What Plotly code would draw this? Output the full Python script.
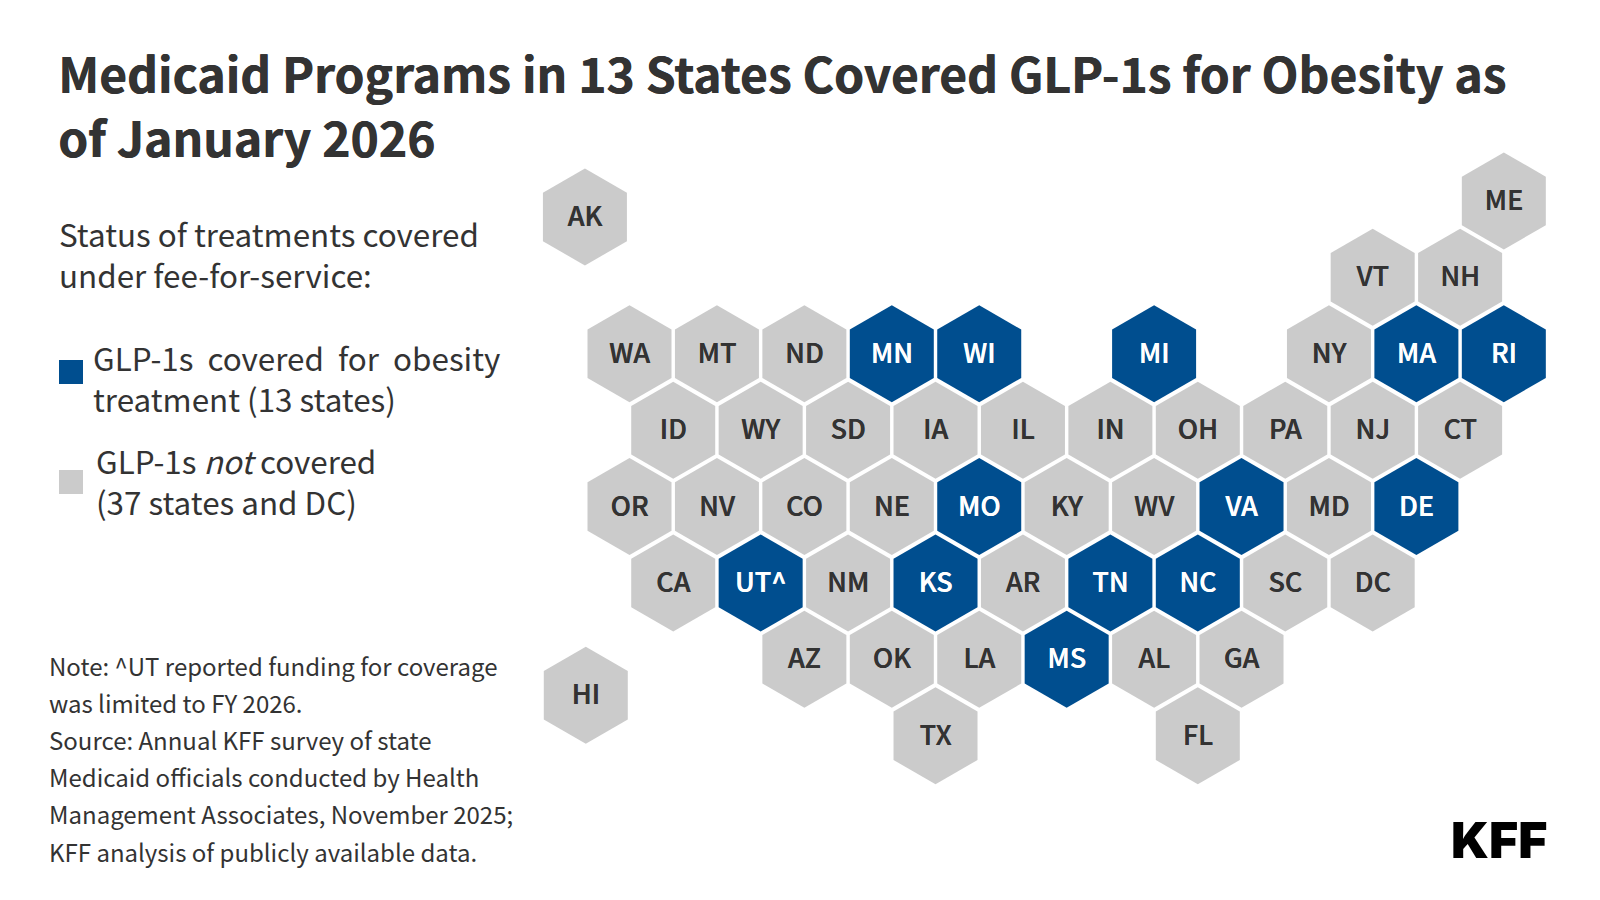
import plotly.graph_objects as go

# tile grid, half columns for the offset rows
states = ['AK', 'HI', 'ME', 'VT', 'NH',
          'WA', 'MT', 'ND', 'MN', 'WI', 'MI', 'NY', 'MA', 'RI',
          'ID', 'WY', 'SD', 'IA', 'IL', 'IN', 'OH', 'PA', 'NJ', 'CT',
          'OR', 'NV', 'CO', 'NE', 'MO', 'KY', 'WV', 'VA', 'MD', 'DE',
          'CA', 'UT^', 'NM', 'KS', 'AR', 'TN', 'NC', 'SC', 'DC',
          'AZ', 'OK', 'LA', 'MS', 'AL', 'GA',
          'TX', 'FL']
cols = [-0.51, -0.5, 10, 8.5, 9.5,
        0, 1, 2, 3, 4, 6, 8, 9, 10,
        0.5, 1.5, 2.5, 3.5, 4.5, 5.5, 6.5, 7.5, 8.5, 9.5,
        0, 1, 2, 3, 4, 5, 6, 7, 8, 9,
        0.5, 1.5, 2.5, 3.5, 4.5, 5.5, 6.5, 7.5, 8.5,
        2, 3, 4, 5, 6, 7,
        3.5, 6.5]
rows = [-0.79, 5.47, -1, 0, 0,
        1, 1, 1, 1, 1, 1, 1, 1, 1,
        2, 2, 2, 2, 2, 2, 2, 2, 2, 2,
        3, 3, 3, 3, 3, 3, 3, 3, 3, 3,
        4, 4, 4, 4, 4, 4, 4, 4, 4,
        5, 5, 5, 5, 5, 5,
        6, 6]
covered = ['MN', 'WI', 'MI', 'MA', 'RI', 'MO', 'VA', 'DE', 'UT^', 'KS', 'TN', 'NC', 'MS']

title_lines = ['Medicaid Programs in 13 States Covered GLP-1s for Obesity as', 'of January 2026']
subtitle_text = 'Status of treatments covered<br>under fee-for-service:'
legend_text = 'GLP-1s\u00a0 covered\u00a0 for\u00a0 obesity<br>treatment (13 states)'
legend_text2 = 'GLP-1s <i>not</i> covered<br>(37 states and DC)'
note_lines = ['Note: ^UT reported funding for coverage',
              'was limited to FY 2026.',
              'Source: Annual KFF survey of state',
              'Medicaid officials conducted by Health',
              'Management Associates, November 2025;',
              'KFF analysis of publicly available data.']

BLUE = '#004E8F'
GRAY = '#CBCBCB'
DARK = '#333333'
FONT = 'Noto Sans CJK SC'
W, H = 1600, 900
LABEL_SHIFT = 0.03  # state codes sit a touch below the tile centre


def add_tiles(fig, names, fill, text_color):
    idx = [states.index(n) for n in names]
    fig.add_trace(go.Scatter(
        x=[cols[i] for i in idx],
        y=[rows[i] for i in idx],
        mode='markers',
        marker=dict(symbol='hexagon', size=97, color=fill, line=dict(width=0)),
        cliponaxis=False,
        showlegend=False,
        hoverinfo='skip',
    ))
    fig.add_trace(go.Scatter(
        x=[cols[i] for i in idx],
        y=[rows[i] + LABEL_SHIFT for i in idx],
        text=names,
        mode='text',
        textposition='middle center',
        textfont=dict(family=FONT, size=27, color=text_color, weight=500,
                      shadow=f'0.35px 0 0 {text_color}'),
        cliponaxis=False,
        showlegend=False,
        hoverinfo='text',
    ))


def label(text, x, y, size, color=DARK, weight=400, family=FONT, shadow='none'):
    return dict(text=text, x=x / W, y=1 - y / H, xref='paper', yref='paper',
                xanchor='left', yanchor='middle', align='left', showarrow=False,
                font=dict(family=family, size=size, color=color, weight=weight, shadow=shadow))


fig = go.Figure()
add_tiles(fig, [s for s in states if s not in covered], GRAY, DARK)
add_tiles(fig, covered, BLUE, 'white')

annotations = []
for line, y in zip(title_lines, [72, 136]):
    annotations.append(label(line, 56, y, 48, weight=700, shadow=f'0.6px 0 0 {DARK}'))
annotations.append(label(subtitle_text, 57, 254, 31.4))
annotations.append(label(legend_text, 91, 378, 31.4))
annotations.append(label(legend_text2, 94, 481, 31.4))
for i, line in enumerate(note_lines):
    annotations.append(label(line, 47, 665 + i * 37.2, 24))
annotations.append(label('KFF', 1449, 840, 50, color='#000000', weight=900, family='Inter'))

fig.update_layout(
    width=W, height=H,
    margin=dict(l=0, r=0, t=0, b=0),
    paper_bgcolor='white', plot_bgcolor='white',
    xaxis=dict(range=[-7.2, 11.1], visible=False, fixedrange=True),
    yaxis=dict(range=[8.15, -3.63], visible=False, fixedrange=True),
    annotations=annotations,
    shapes=[
        dict(type='rect', xref='paper', yref='paper', x0=59 / W, x1=83 / W,
             y0=1 - 360 / H, y1=1 - 384 / H, fillcolor=BLUE, line_width=0),
        dict(type='rect', xref='paper', yref='paper', x0=59 / W, x1=83 / W,
             y0=1 - 470 / H, y1=1 - 494 / H, fillcolor=GRAY, line_width=0),
    ],
)

fig.write_html("out.html", config=dict(displayModeBar=False),
               post_script="document.body.style.margin='0';")
